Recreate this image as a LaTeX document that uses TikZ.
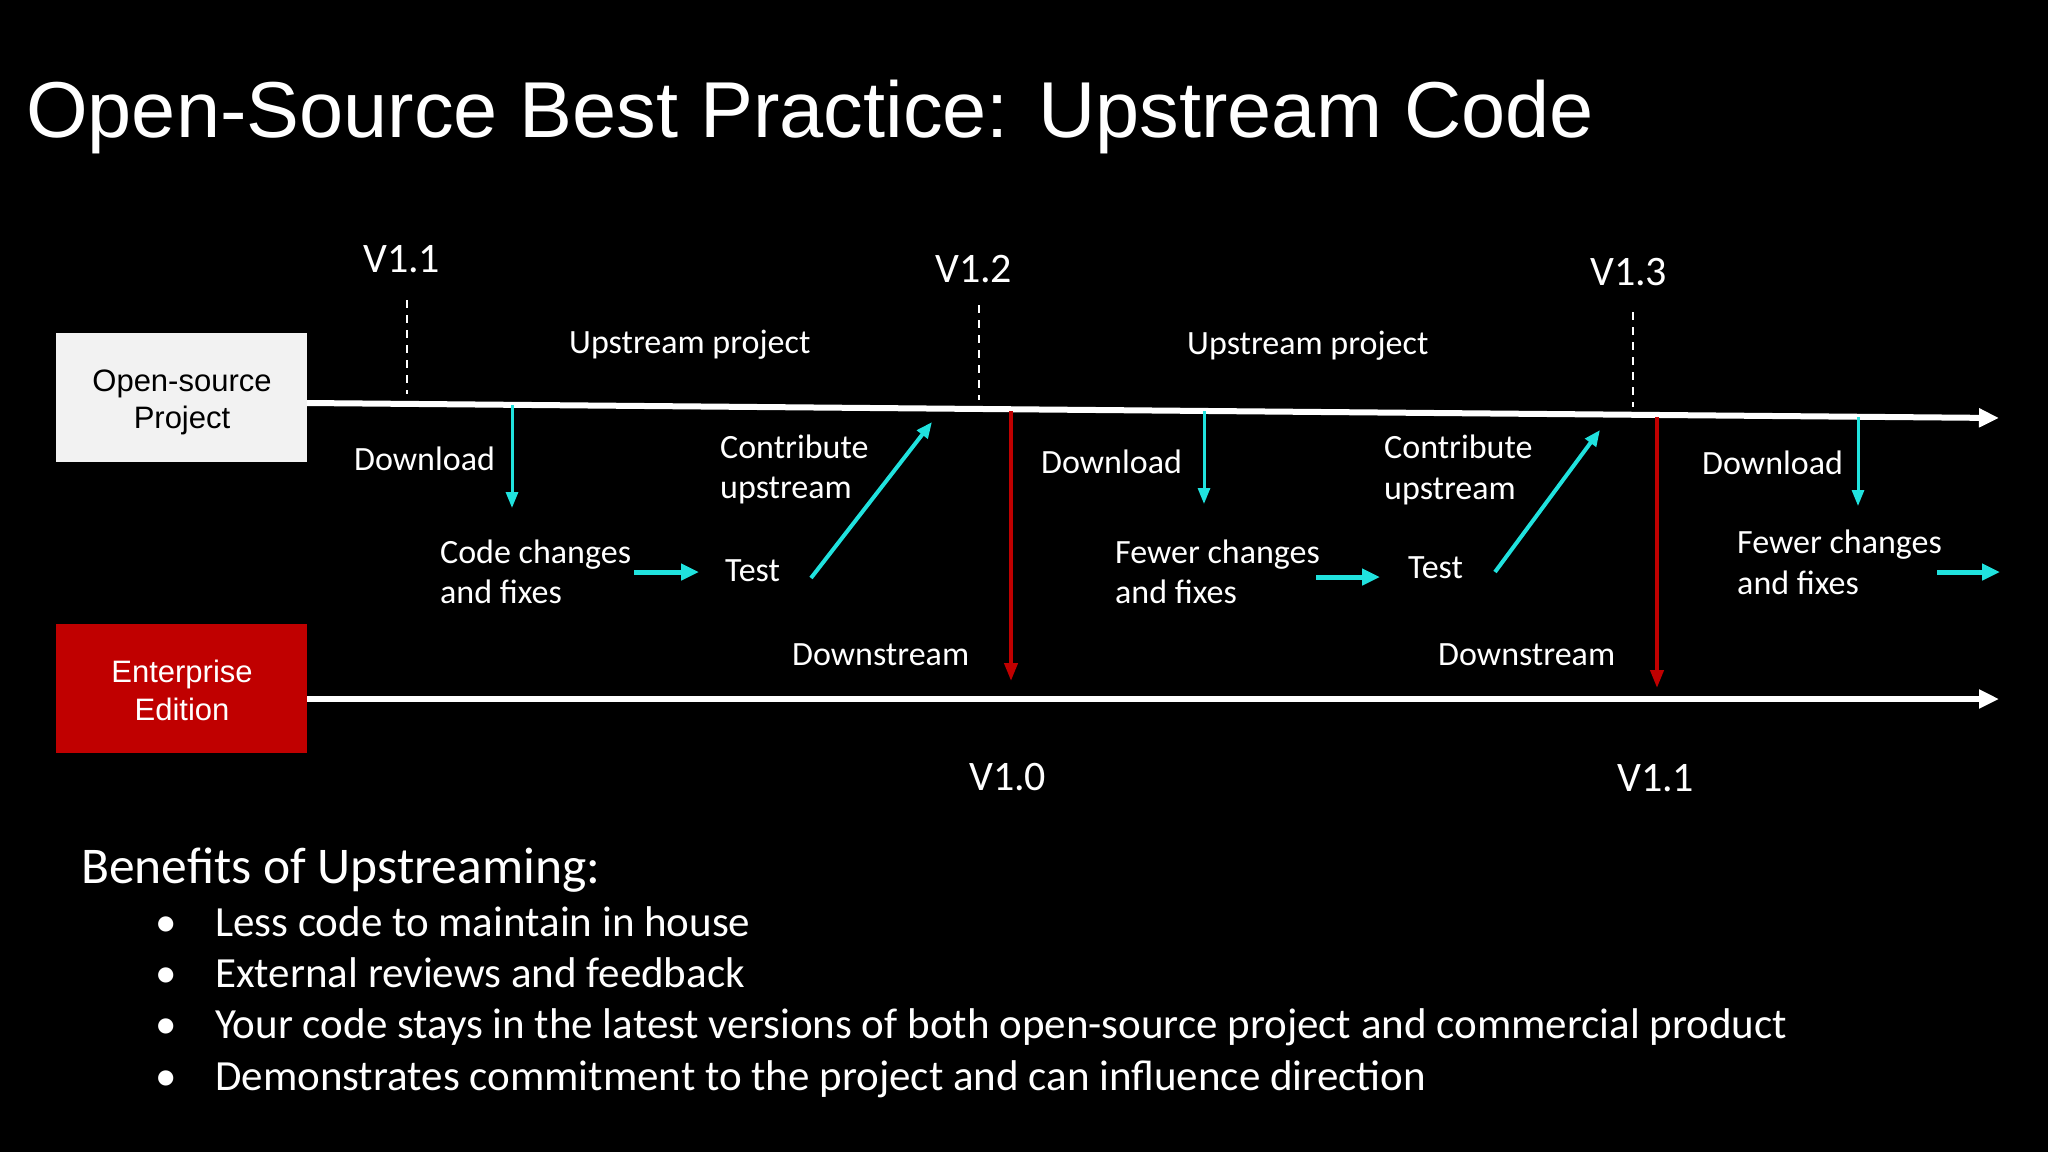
\documentclass[tikz,border=0pt]{standalone}
\usepackage{fontspec}
\setmainfont{Carlito}
\newfontfamily\arialf{Liberation Sans}
\usetikzlibrary{arrows.meta}
\definecolor{boxgray}{HTML}{F2F2F2}
\definecolor{entred}{HTML}{C00000}
\definecolor{cyanarr}{RGB}{32,226,222}
\tikzset{
  lbl/.style={text=white, inner sep=0pt, anchor=base west,
    font=\fontsize{34}{40}\selectfont},
  ver/.style={text=white, inner sep=0pt, anchor=base west,
    font=\fontsize{42}{50}\selectfont},
  bul/.style={text=white, inner sep=0pt, anchor=base west,
    font=\fontsize{43}{50}\selectfont},
  boxtxt/.style={inner sep=0pt, anchor=base, font=\arialf\fontsize{31}{37}\selectfont},
  mainline/.style={white, line width=6pt, -{Triangle[length=20pt,width=18pt]}},
  dlarrow/.style={cyanarr, line width=3pt, -{Triangle[length=16pt,width=12pt]}},
  smallarrow/.style={cyanarr, line width=5pt, -{Triangle[length=18pt,width=16pt]}},
  contrib/.style={cyanarr, line width=4pt, -{Triangle[length=16pt,width=13pt]}},
  redarrow/.style={entred, line width=4pt, -{Triangle[length=18pt,width=13pt]}},
  verdash/.style={white, line width=2pt, dash pattern=on 8pt off 7pt},
  sidebox/.style={minimum width=251pt, minimum height=129pt, inner sep=0pt,
    anchor=north west}
}
\begin{document}
\begin{tikzpicture}[x=1pt,y=-1pt]
\fill[black] (0,0) rectangle (2048,1152);
\useasboundingbox (0,0) rectangle (2048,1152);

% title
\node[text=white, inner sep=0pt, anchor=base west, font=\arialf\fontsize{79.3}{95}\selectfont]
  (title) at (26,137) {Open-Source Best Practice: Upstream Code};

% side boxes
\node[sidebox, fill=boxgray] (osp) at (56,333) {};
\node[boxtxt, text=black] (osp1) at (182,391) {Open-source};
\node[boxtxt, text=black] (osp2) at (182,428) {Project};
\node[sidebox, fill=entred] (ent) at (56,624) {};
\node[boxtxt, text=white] (ent1) at (182,682) {Enterprise};
\node[boxtxt, text=white] (ent2) at (182,720) {Edition};

% main timelines
\coordinate (tl) at (307,403);
\coordinate (tr) at (1999,418);
\coordinate (bl) at (307,699);
\coordinate (br) at (1999,699);
\draw[mainline] (tl) -- (tr);
\draw[mainline] (bl) -- (br);

% version markers (upstream)
\node[ver] (v11) at (363,272) {V1.1};
\node[ver] (v12) at (935,282) {V1.2};
\node[ver] (v13) at (1590,285) {V1.3};
\coordinate (d1a) at (407,300); \coordinate (d1b) at (407,394);
\coordinate (d2a) at (979,305); \coordinate (d2b) at (979,400);
\coordinate (d3a) at (1633,312); \coordinate (d3b) at (1633,407);
\draw[verdash] (d1a) -- (d1b);
\draw[verdash] (d2a) -- (d2b);
\draw[verdash] (d3a) -- (d3b);

\node[lbl] (up1) at (569,353) {Upstream project};
\node[lbl] (up2) at (1187,354) {Upstream project};

% cycle 1
\node[lbl] (dl1) at (354,470) {Download};
\coordinate (a1s) at (512,405); \coordinate (a1e) at (512,508);
\draw[dlarrow] (a1s) -- (a1e);
\node[lbl] (cc1a) at (440,563) {Code changes};
\node[lbl] (cc1b) at (440,603) {and fixes};
\coordinate (s1s) at (634,572); \coordinate (s1e) at (699,572);
\draw[smallarrow] (s1s) -- (s1e);
\node[lbl] (t1) at (725,581) {Test};
\node[lbl] (cu1a) at (720,458) {Contribute};
\node[lbl] (cu1b) at (720,498) {upstream};
\coordinate (c1s) at (811,578); \coordinate (c1e) at (932,422);
\draw[contrib] (c1s) -- (c1e);
\node[lbl] (ds1) at (792,665) {Downstream};
\coordinate (r1s) at (1011,411); \coordinate (r1e) at (1011,681);
\draw[redarrow] (r1s) -- (r1e);
\node[ver] (v10) at (969,790) {V1.0};

% cycle 2
\node[lbl] (dl2) at (1041,473) {Download};
\coordinate (a2s) at (1204,411); \coordinate (a2e) at (1204,504);
\draw[dlarrow] (a2s) -- (a2e);
\node[lbl] (cc2a) at (1115,563) {Fewer changes};
\node[lbl] (cc2b) at (1115,603) {and fixes};
\coordinate (s2s) at (1316,577); \coordinate (s2e) at (1380,577);
\draw[smallarrow] (s2s) -- (s2e);
\node[lbl] (t2) at (1408,578) {Test};
\node[lbl] (cu2a) at (1384,458) {Contribute};
\node[lbl] (cu2b) at (1384,499) {upstream};
\coordinate (c2s) at (1495,572); \coordinate (c2e) at (1600,430);
\draw[contrib] (c2s) -- (c2e);
\node[lbl] (ds2) at (1438,665) {Downstream};
\coordinate (r2s) at (1657,417); \coordinate (r2e) at (1657,688);
\draw[redarrow] (r2s) -- (r2e);
\node[ver] (v11b) at (1617,791) {V1.1};

% cycle 3
\node[lbl] (dl3) at (1702,474) {Download};
\coordinate (a3s) at (1858,417); \coordinate (a3e) at (1858,506);
\draw[dlarrow] (a3s) -- (a3e);
\node[lbl] (cc3a) at (1737,553) {Fewer changes};
\node[lbl] (cc3b) at (1737,594) {and fixes};
\coordinate (s3s) at (1937,572); \coordinate (s3e) at (2000,572);
\draw[smallarrow] (s3s) -- (s3e);

% benefits
\node[text=white, inner sep=0pt, anchor=base west, font=\fontsize{51.5}{60}\selectfont]
  (ben) at (81,883) {Benefits of Upstreaming:};
\node[bul] (b1d) at (155,936) {•};
\node[bul] (b1) at (215,936) {Less code to maintain in house};
\node[bul] (b2d) at (155,987) {•};
\node[bul] (b2) at (215,987) {External reviews and feedback};
\node[bul] (b3d) at (155,1038) {•};
\node[bul] (b3) at (215,1038) {Your code stays in the latest versions of both open-source project and commercial product};
\node[bul] (b4d) at (155,1090) {•};
\node[bul] (b4) at (215,1090) {Demonstrates commitment to the project and can influence direction};
\end{tikzpicture}
\end{document}
